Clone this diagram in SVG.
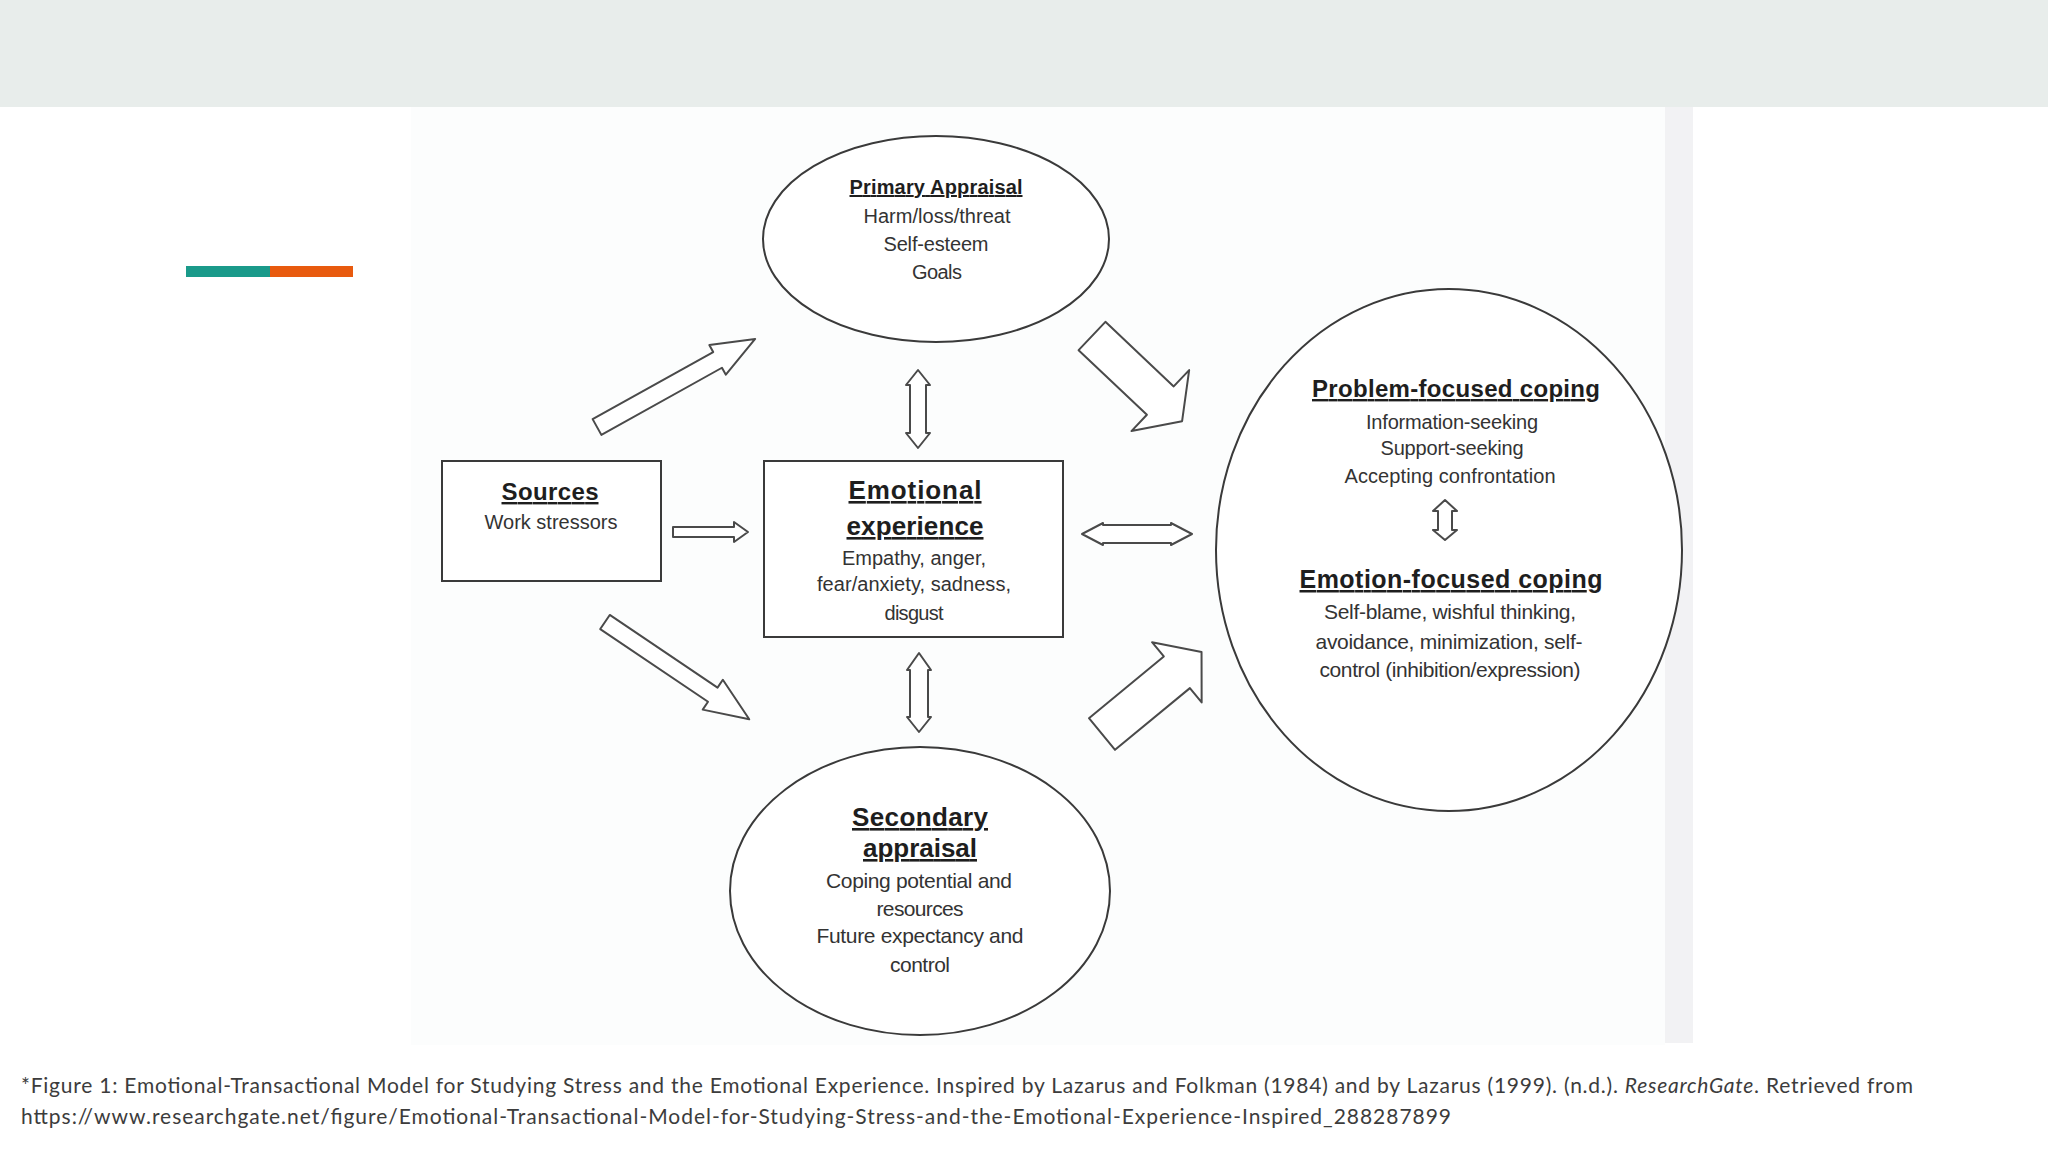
<svg xmlns="http://www.w3.org/2000/svg" width="2048" height="1152" viewBox="0 0 2048 1152">
<style>
.shape{fill:#ffffff;stroke:#3a3a3a;stroke-width:2}
.arr{fill:#ffffff;stroke:#4a4a4a;stroke-width:2;stroke-linejoin:round}
.ttl{font-family:"Liberation Sans",Arial,sans-serif;font-weight:bold;fill:#1e1e1e;text-anchor:middle;text-decoration:underline}
.bd{font-family:"Liberation Sans",Arial,sans-serif;fill:#333333;text-anchor:middle}
.cap{font-family:Lato,"Liberation Sans",sans-serif;font-size:21px;fill:#3c3c3c}
</style>
<rect x="0" y="0" width="2048" height="1152" fill="#ffffff"/>
<rect x="0" y="0" width="2048" height="107" fill="#e8edeb"/>
<rect x="411" y="107" width="1254" height="938" fill="#fcfdfd"/>
<rect x="1665" y="107" width="28" height="936" fill="#f2f2f4"/>
<g id="accent">
<rect x="186" y="266" width="84" height="11" fill="#1a9a8a"/>
<rect x="270" y="266" width="83" height="11" fill="#e85a0e"/>
</g>
<g id="primary-appraisal">
<ellipse class="shape" cx="936" cy="239" rx="173" ry="103"/>
<text class="ttl" x="936" y="194" font-size="20" textLength="173">Primary Appraisal</text>
<text class="bd" x="937" y="223" font-size="20" textLength="147">Harm/loss/threat</text>
<text class="bd" x="936" y="251" font-size="20" textLength="105">Self-esteem</text>
<text class="bd" x="937" y="279" font-size="20" textLength="50">Goals</text>
</g>
<g id="sources">
<rect class="shape" x="442" y="461" width="219" height="120"/>
<text class="ttl" x="550" y="500" font-size="24" textLength="97">Sources</text>
<text class="bd" x="551" y="529" font-size="20" textLength="133">Work stressors</text>
</g>
<g id="emotional-experience">
<rect class="shape" x="764" y="461" width="299" height="176"/>
<text class="ttl" x="915" y="499" font-size="26" textLength="133">Emotional</text>
<text class="ttl" x="915" y="535" font-size="26" textLength="137">experience</text>
<text class="bd" x="914" y="565" font-size="20" textLength="144">Empathy, anger,</text>
<text class="bd" x="914" y="591" font-size="20" textLength="194">fear/anxiety, sadness,</text>
<text class="bd" x="914" y="620" font-size="20" textLength="59">disgust</text>
</g>
<g id="coping">
<ellipse class="shape" cx="1449" cy="550" rx="233" ry="261"/>
<text class="ttl" x="1456" y="397" font-size="24" textLength="288">Problem-focused coping</text>
<text class="bd" x="1452" y="429" font-size="20" textLength="172">Information-seeking</text>
<text class="bd" x="1452" y="455" font-size="20" textLength="143">Support-seeking</text>
<text class="bd" x="1450" y="483" font-size="20" textLength="211">Accepting confrontation</text>
<text class="ttl" x="1451" y="588" font-size="25" textLength="303">Emotion-focused coping</text>
<text class="bd" x="1450" y="619" font-size="21" textLength="252">Self-blame, wishful thinking,</text>
<text class="bd" x="1449" y="649" font-size="21" textLength="267">avoidance, minimization, self-</text>
<text class="bd" x="1450" y="677" font-size="21" textLength="261">control (inhibition/expression)</text>
</g>
<g id="secondary-appraisal">
<ellipse class="shape" cx="920" cy="891" rx="190" ry="144"/>
<text class="ttl" x="920" y="826" font-size="26" textLength="136">Secondary</text>
<text class="ttl" x="920" y="857" font-size="26" textLength="114">appraisal</text>
<text class="bd" x="919" y="888" font-size="21" textLength="186">Coping potential and</text>
<text class="bd" x="920" y="916" font-size="21" textLength="87">resources</text>
<text class="bd" x="920" y="943" font-size="21" textLength="207">Future expectancy and</text>
<text class="bd" x="920" y="972" font-size="21" textLength="60">control</text>
</g>
<g id="connectors">
<path class="arr" transform="translate(597,427) rotate(-29.1)" d="M0,-9 L138,-9 L138,-17 L181,0 L138,17 L138,9 L0,9 Z"/>
<path class="arr" transform="translate(1092,336) rotate(43.4)" d="M0,-19.5 L94,-19.5 L94,-42 L124,0 L94,42 L94,19.5 L0,19.5 Z"/>
<path class="arr" transform="translate(605,622) rotate(34)" d="M0,-8.5 L130,-8.5 L130,-18 L174,0 L130,18 L130,8.5 L0,8.5 Z"/>
<path class="arr" transform="translate(1102,734) rotate(-39.5)" d="M0,-20.5 L97,-20.5 L97,-39 L129,0 L97,39 L97,20.5 L0,20.5 Z"/>
<path class="arr" d="M673,527 L734,527 L734,522 L748,532 L734,542 L734,537 L673,537 Z"/>
<path class="arr" d="M1082,534 L1103,523 L1103,525 L1171,525 L1171,523 L1192,534 L1171,545 L1171,543 L1103,543 L1103,545 Z"/>
<path class="arr" d="M918,370 L930,385 L926,385 L926,433 L930,433 L918,448 L906,433 L910,433 L910,385 L906,385 Z"/>
<path class="arr" d="M919,653 L931,670 L928,670 L928,717 L931,717 L919,732 L907,717 L910,717 L910,670 L907,670 Z"/>
<path class="arr" d="M1445,500 L1457,511 L1452,511 L1452,530 L1457,530 L1445,540 L1433,530 L1438,530 L1438,511 L1433,511 Z"/>
</g>
<g id="caption">
<text class="cap" x="21" y="1093" textLength="1892">*Figure 1: Emotional-Transactional Model for Studying Stress and the Emotional Experience. Inspired by Lazarus and Folkman (1984) and by Lazarus (1999). (n.d.). <tspan font-style="italic">ResearchGate</tspan>. Retrieved from</text>
<text class="cap" x="21" y="1124" textLength="1430">https://www.researchgate.net/figure/Emotional-Transactional-Model-for-Studying-Stress-and-the-Emotional-Experience-Inspired_288287899</text>
</g>
</svg>
